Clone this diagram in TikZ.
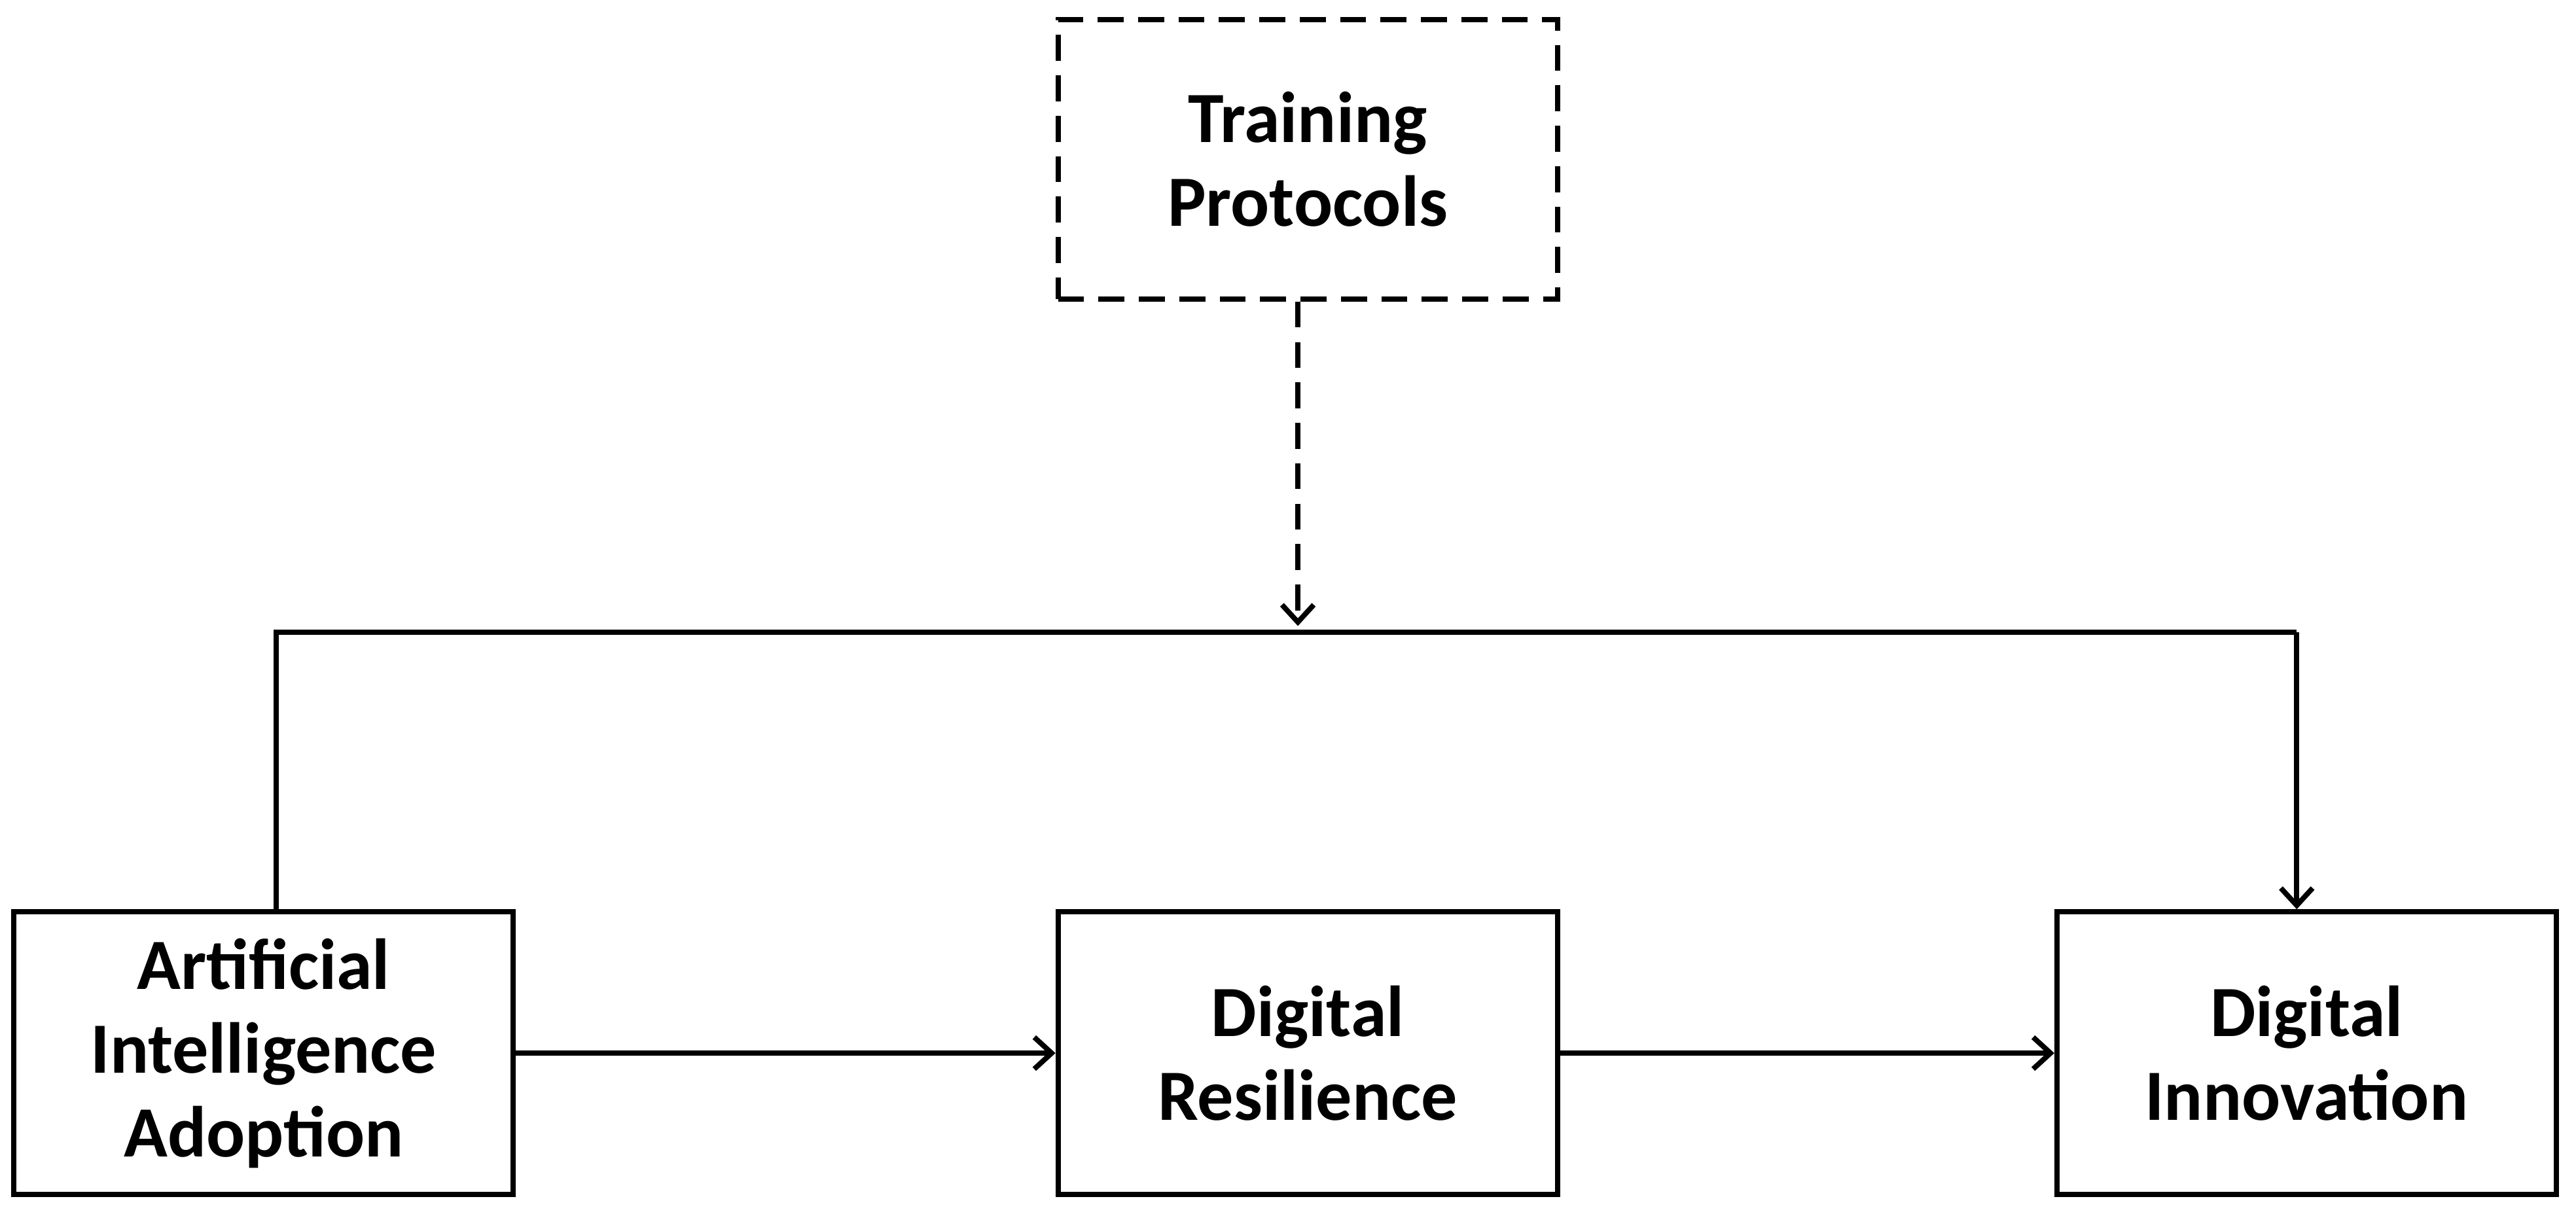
\documentclass[tikz,border=0pt]{standalone}
\usepackage{fontspec}
\setmainfont{Carlito}
\usetikzlibrary{arrows.meta}
\begin{document}
\begin{tikzpicture}[x=0.02cm,y=-0.02cm,
  box/.style={draw,line width=1.8pt,minimum width=6.08cm,minimum height=3.44cm,align=center,font=\fontsize{25}{29}\selectfont\bfseries},
  conn/.style={line width=1.8pt,-{Straight Barb[length=6pt,width=11pt,line width=1.8pt]}}]
\useasboundingbox (0,0) rectangle (1568,741);
\node[box] (ai) at (160.5,641) {Artificial\\Intelligence\\Adoption};
\node[box] (dr) at (796,641) {Digital\\Resilience};
\node[box] (di) at (1404,641) {Digital\\Innovation};
\node[box,dashed,dash pattern=on 9pt off 5pt,minimum height=3.4cm] (tp) at (796,97) {Training\\Protocols};
\coordinate (j) at (790,381);
\draw[conn] (ai) -- (dr);
\draw[conn] (dr) -- (di);
\draw[line width=1.8pt] (168,555) -- (168,385) -- (1398,385);
\draw[conn] (1398,385) -- (di.north -| 1398,0);
\draw[conn,dashed,dash pattern=on 9pt off 5pt] (tp.south -| j) -- (j);
\end{tikzpicture}
\end{document}
